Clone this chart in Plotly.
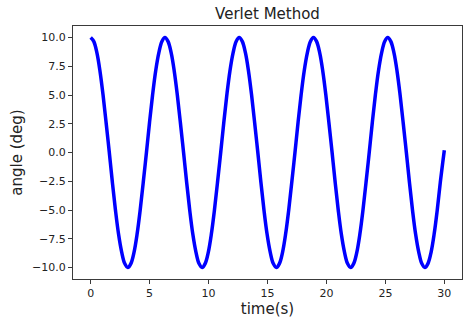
import plotly.graph_objects as go

# Angle of the pendulum (deg), ~24 samples per period
time_s = [
    0.0, 0.26, 0.53, 0.79, 1.05, 1.31, 1.58, 1.84, 2.1, 2.36, 2.63, 2.89,
    3.15, 3.41, 3.68, 3.94, 4.2, 4.46, 4.73, 4.99, 5.25, 5.51, 5.78, 6.04,
    6.3, 6.56, 6.83, 7.09, 7.35, 7.61, 7.88, 8.14, 8.4, 8.66, 8.93, 9.19,
    9.45, 9.71, 9.98, 10.24, 10.5, 10.76, 11.03, 11.29, 11.55, 11.81, 12.08, 12.34,
    12.6, 12.86, 13.13, 13.39, 13.65, 13.91, 14.18, 14.44, 14.7, 14.96, 15.23, 15.49,
    15.75, 16.01, 16.28, 16.54, 16.8, 17.06, 17.33, 17.59, 17.85, 18.11, 18.38, 18.64,
    18.9, 19.16, 19.43, 19.69, 19.95, 20.21, 20.48, 20.74, 21.0, 21.26, 21.53, 21.79,
    22.05, 22.31, 22.58, 22.84, 23.1, 23.36, 23.63, 23.89, 24.15, 24.41, 24.68, 24.94,
    25.2, 25.46, 25.73, 25.99, 26.25, 26.51, 26.78, 27.04, 27.3, 27.56, 27.83, 28.09,
    28.35, 28.61, 28.88, 29.14, 29.4, 29.66, 30.0,
]
angle_deg = [
    10.0, 9.66, 8.66, 7.07, 5.0, 2.59, 0.0, -2.59, -5.0, -7.07, -8.66, -9.66,
    -10.0, -9.66, -8.66, -7.07, -5.0, -2.59, 0.0, 2.59, 5.0, 7.07, 8.66, 9.66,
    10.0, 9.66, 8.66, 7.07, 5.0, 2.59, 0.0, -2.59, -5.0, -7.07, -8.66, -9.66,
    -10.0, -9.66, -8.66, -7.07, -5.0, -2.59, 0.0, 2.59, 5.0, 7.07, 8.66, 9.66,
    10.0, 9.66, 8.66, 7.07, 5.0, 2.59, 0.0, -2.59, -5.0, -7.07, -8.66, -9.66,
    -10.0, -9.66, -8.66, -7.07, -5.0, -2.59, 0.0, 2.59, 5.0, 7.07, 8.66, 9.66,
    10.0, 9.66, 8.66, 7.07, 5.0, 2.59, 0.0, -2.59, -5.0, -7.07, -8.66, -9.66,
    -10.0, -9.66, -8.66, -7.07, -5.0, -2.59, 0.0, 2.59, 5.0, 7.07, 8.66, 9.66,
    10.0, 9.66, 8.66, 7.07, 5.0, 2.59, 0.0, -2.59, -5.0, -7.07, -8.66, -9.66,
    -10.0, -9.66, -8.66, -7.07, -5.0, -2.59, 0.2,
]

x_ticks = [0, 5, 10, 15, 20, 25, 30]
y_ticks = [-10.0, -7.5, -5.0, -2.5, 0.0, 2.5, 5.0, 7.5, 10.0]

title_text = "Verlet Method"
x_label = "time(s)"
y_label = "angle (deg)"

font_family = "DejaVu Sans, Liberation Sans, sans-serif"
axis_color = "#3a3a3a"
text_color = "#222222"

fig = go.Figure()
fig.add_trace(go.Scatter(
    x=time_s, y=angle_deg, mode="lines",
    line=dict(color="#0000ff", width=3.5, shape="spline", smoothing=1.0),
    showlegend=False, hoverinfo="skip",
))

axis_common = dict(
    showline=True, mirror=True, linecolor=axis_color, linewidth=1,
    ticks="outside", ticklen=4, tickwidth=1, tickcolor=axis_color,
    showgrid=False, zeroline=False,
    tickfont=dict(family=font_family, size=11, color=text_color),
)

fig.update_layout(
    width=474, height=327,
    margin=dict(l=73, r=12, t=26, b=48),
    paper_bgcolor="white", plot_bgcolor="white",
    font=dict(family=font_family, color=text_color),
    title=dict(text=title_text, x=0.5, xref="paper", xanchor="center",
               y=1 - 14 / 327, yanchor="middle",
               font=dict(family=font_family, size=15, color=text_color)),
    xaxis=dict(range=[-1.5, 31.5], tickvals=x_ticks,
               title=dict(text=x_label, standoff=3,
                          font=dict(family=font_family, size=15, color=text_color)),
               **axis_common),
    yaxis=dict(range=[-11, 11], tickvals=y_ticks, tickformat=".1f",
               title=dict(text=y_label, standoff=5,
                          font=dict(family=font_family, size=15, color=text_color)),
               **axis_common),
)

fig.write_html("out.html")
